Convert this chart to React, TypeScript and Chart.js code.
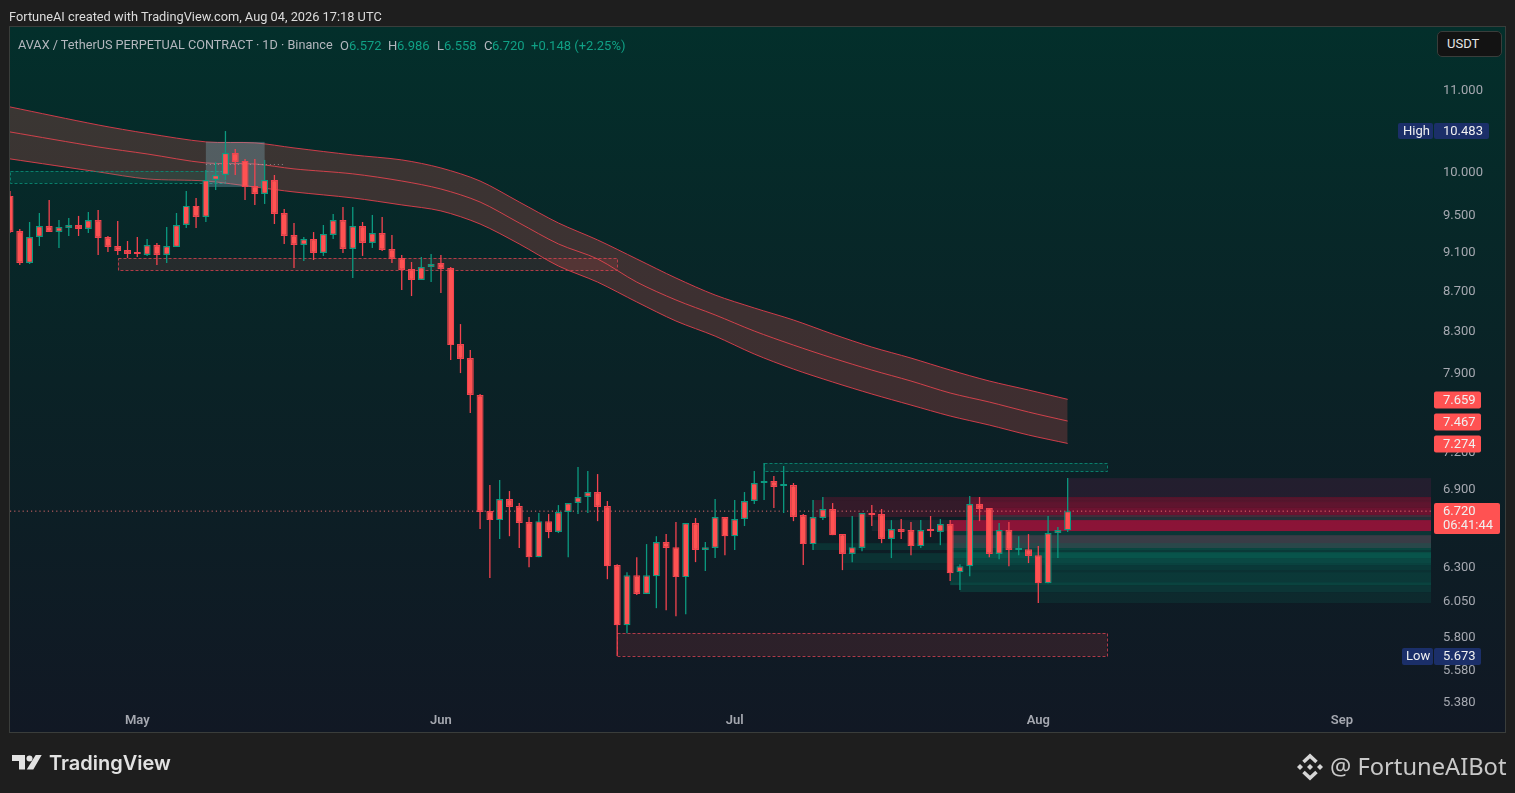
import React, { useEffect, useRef } from "react";
import { Chart, registerables } from "chart.js";

Chart.register(...registerables);

// Day numbers: 0 = 1 May. The first visible candle is day -13.
const firstDay = -13;
const axisMinDay = -13;
const axisMaxDay = 132.1;

const highs = [
  9.774, 9.348, 9.425, 9.525, 9.671, 9.447, 9.469, 9.492, 9.537, 9.559,
  9.272, 9.436, 9.218, 9.261, 9.24, 9.197, 9.37, 9.525, 9.774, 9.694,
  10.017, 10.11, 10.483, 10.266, 10.147, 10.147, 10.135, 9.958, 9.57, 9.414,
  9.261, 9.315, 9.392, 9.514, 9.592, 9.592, 9.425, 9.503, 9.481, 9.283,
  9.068, 8.994, 9.047, 9.079, 9.068, 8.941, 8.364, 8.114, 7.707, 6.928,
  6.969, 6.88, 6.784, 6.674, 6.706, 6.698, 6.768, 6.784, 7.076, 7.043,
  7.018, 6.8, 6.316, 6.257, 6.368, 6.466, 6.526, 6.542, 6.635, 6.627,
  6.666, 6.481, 6.816, 6.674, 6.808, 6.872, 7.043, 7.109, 7.002, 7.084,
  6.945, 6.698, 6.808, 6.832, 6.784, 6.542, 6.682, 6.706, 6.768, 6.737,
  6.65, 6.658, 6.635, 6.65, 6.682, 6.658, 6.65, 6.316, 6.84, 6.832,
  6.745, 6.627, 6.635, 6.526, 6.542, 6.451, 6.682, 6.596, 6.986,
];
const bodyTops = [
  9.717, 9.326, 9.261, 9.381, 9.381, 9.37, 9.392, 9.392, 9.447, 9.447,
  9.261, 9.164, 9.121, 9.089, 9.175, 9.175, 9.164, 9.392, 9.604, 9.604,
  9.9, 9.958, 10.218, 10.218, 10.123, 9.831, 9.9, 9.9, 9.525, 9.283,
  9.24, 9.24, 9.294, 9.447, 9.447, 9.381, 9.381, 9.305, 9.305, 9.132,
  9.036, 8.92, 8.941, 8.973, 8.984, 8.931, 8.171, 8.038, 7.698, 6.721,
  6.816, 6.816, 6.761, 6.635, 6.642, 6.642, 6.713, 6.784, 6.832, 6.872,
  6.872, 6.761, 6.309, 6.235, 6.235, 6.235, 6.481, 6.481, 6.443, 6.627,
  6.627, 6.443, 6.674, 6.674, 6.658, 6.8, 6.945, 6.961, 6.961, 6.928,
  6.928, 6.69, 6.674, 6.737, 6.737, 6.542, 6.443, 6.706, 6.706, 6.698,
  6.581, 6.581, 6.573, 6.573, 6.573, 6.619, 6.619, 6.301, 6.776, 6.776,
  6.745, 6.573, 6.573, 6.428, 6.428, 6.383, 6.55, 6.573, 6.72,
];
const bodyBottoms = [
  9.315, 8.984, 8.984, 9.261, 9.315, 9.315, 9.359, 9.348, 9.348, 9.25,
  9.153, 9.11, 9.079, 9.079, 9.068, 9.068, 9.068, 9.153, 9.392, 9.481,
  9.481, 9.9, 9.958, 10.111, 9.818, 9.739, 9.739, 9.514, 9.272, 9.175,
  9.175, 9.089, 9.089, 9.283, 9.132, 9.132, 9.197, 9.197, 9.121, 9.026,
  8.91, 8.806, 8.806, 8.941, 8.92, 8.161, 8.029, 7.698, 6.713, 6.65,
  6.65, 6.753, 6.627, 6.368, 6.368, 6.558, 6.558, 6.713, 6.784, 6.832,
  6.753, 6.301, 5.88, 5.88, 6.099, 6.099, 6.228, 6.436, 6.221, 6.221,
  6.421, 6.421, 6.436, 6.526, 6.526, 6.658, 6.8, 6.945, 6.912, 6.92,
  6.674, 6.466, 6.466, 6.666, 6.534, 6.391, 6.391, 6.436, 6.69, 6.504,
  6.504, 6.558, 6.451, 6.451, 6.565, 6.558, 6.25, 6.257, 6.301, 6.737,
  6.391, 6.391, 6.421, 6.421, 6.376, 6.177, 6.177, 6.55, 6.572,
];
const lows = [
  9.304, 8.962, 8.973, 9.164, 9.315, 9.143, 9.272, 9.272, 9.305, 9.068,
  9.1, 9.068, 9.036, 9.047, 9.058, 8.962, 8.984, 9.153, 9.359, 9.359,
  9.425, 9.785, 9.9, 9.958, 9.671, 9.615, 9.626, 9.403, 9.186, 8.931,
  9.005, 9.015, 9.058, 9.24, 9.089, 8.827, 9.058, 9.143, 9.11, 8.984,
  8.704, 8.643, 8.806, 8.785, 8.674, 8.019, 7.898, 7.538, 6.581, 6.214,
  6.504, 6.526, 6.436, 6.294, 6.368, 6.511, 6.55, 6.368, 6.698, 6.706,
  6.642, 6.206, 5.673, 5.826, 6.092, 6.099, 5.999, 5.985, 5.943, 5.957,
  6.331, 6.265, 6.361, 6.383, 6.421, 6.604, 6.776, 6.808, 6.745, 6.706,
  6.642, 6.309, 6.421, 6.65, 6.534, 6.272, 6.331, 6.413, 6.604, 6.473,
  6.361, 6.504, 6.383, 6.436, 6.519, 6.458, 6.192, 6.127, 6.228, 6.642,
  6.368, 6.353, 6.301, 6.383, 6.324, 6.035, 6.177, 6.361, 6.558,
];
const upFlags = [
  0, 0, 1, 1, 0, 1, 1, 0, 1, 0,
  0, 0, 0, 0, 1, 0, 1, 1, 1, 0,
  1, 1, 1, 0, 0, 0, 1, 0, 0, 0,
  1, 0, 1, 1, 0, 1, 0, 1, 0, 0,
  0, 0, 1, 1, 0, 0, 0, 0, 0, 0,
  1, 0, 0, 0, 1, 0, 1, 1, 1, 1,
  0, 0, 0, 1, 0, 1, 1, 0, 0, 1,
  0, 1, 1, 0, 1, 1, 1, 1, 0, 1,
  0, 0, 1, 1, 0, 0, 1, 1, 0, 0,
  1, 0, 0, 1, 0, 1, 0, 1, 1, 0,
  0, 1, 0, 1, 0, 0, 1, 1, 1,
];

const bandDays = [-13, -4, 1, 7, 12, 16, 22, 27, 31, 35, 39, 43, 47, 51, 55, 59, 63, 67, 71, 75, 79, 83, 87, 91, 95];
const bandUpper = [
  10.783, 10.558, 10.454, 10.351, 10.339, 10.278, 10.194, 10.135, 10.04, 9.888, 9.648, 9.414, 9.229,
  9.026, 8.827, 8.653, 8.523, 8.404, 8.267, 8.142, 8.038, 7.926, 7.825, 7.743, 7.659,
];
const bandMiddle = [
  10.472, 10.29, 10.206, 10.099, 10.087, 10.029, 9.971, 9.888, 9.796, 9.648, 9.414, 9.186, 9.026,
  8.785, 8.603, 8.454, 8.296, 8.161, 8.038, 7.926, 7.825, 7.716, 7.635, 7.546, 7.467,
];
const bandLower = [
  10.147, 9.994, 9.912, 9.888, 9.819, 9.762, 9.694, 9.615, 9.548, 9.403, 9.186, 8.952, 8.785,
  8.583, 8.394, 8.247, 8.076, 7.935, 7.816, 7.707, 7.608, 7.511, 7.432, 7.346, 7.274,
];

const lastPrice = 6.72;
const countdown = "06:41:44";
const highPrice = 10.483;
const lowPrice = 5.673;
const bandLabels = [7.659, 7.467, 7.274];

const priceTicks = [11, 10, 9.5, 9.1, 8.7, 8.3, 7.9, 7.2, 6.9, 6.3, 6.05, 5.8, 5.58, 5.38];
const monthNames = ["May", "Jun", "Jul", "Aug", "Sep"];
const monthDays = [0, 31, 61, 92, 123];

// Zones: start day, end day, upper price, lower price
const zoneStarts = [-13, 7, -2, 64, 49];
const zoneEnds = [9, 13, 49, 99, 99];
const zoneTops = [10.005, 10.351, 9.036, 7.109, 5.826];
const zoneBottoms = [9.865, 9.819, 8.905, 7.039, 5.673];
const zoneKinds = ["supply", "mark", "demand", "supply", "demand"];

// Volume-profile style rows: start day, upper price, lower price, kind, weight
const rowStarts = [95, 69, 70, 85, 85, 85, 85, 75, 83, 83, 83, 69, 83, 83, 72, 83, 72, 83, 83, 83, 84, 92];
const rowTops = [6.985, 6.808, 6.832, 6.832, 6.792, 6.745, 6.69, 6.65, 6.65, 6.565, 6.534, 6.473, 6.436, 6.406, 6.398, 6.361, 6.324, 6.309, 6.257, 6.184, 6.163, 6.113];
const rowBottoms = [6.832, 6.674, 6.808, 6.792, 6.745, 6.69, 6.65, 6.565, 6.565, 6.534, 6.436, 6.421, 6.406, 6.361, 6.324, 6.309, 6.272, 6.257, 6.184, 6.163, 6.113, 6.035];
const rowKinds = ["p", "r", "r", "r", "r", "r", "g", "g", "r", "t", "g", "t", "t", "t", "t", "t", "t", "t", "t", "t", "t", "t"];
const rowWeights = [0.3, 0.2, 0.2, 0.22, 0.28, 0.36, 0.25, 0.14, 0.62, 0.35, 0.45, 0.3, 0.4, 0.7, 0.3, 0.45, 0.15, 0.3, 0.4, 0.55, 0.35, 0.2];

const TEAL = "#0b9a80";
const RED = "#f4434f";
const FILL = "#ff5252";
const rowRgb: Record<string, string> = {
  p: "90,30,70",
  r: "208,9,61",
  g: "110,100,110",
  t: "8,100,86",
};

const SANS = "Roboto, sans-serif";

function badge(ctx: any, x: number, y: number, w: number, h: number, color: string, text: string, tx: number) {
  ctx.fillStyle = color;
  ctx.beginPath();
  ctx.roundRect(x, y, w, h, 2);
  ctx.fill();
  ctx.fillStyle = "#f0f0f0";
  ctx.font = `13px ${SANS}`;
  ctx.textAlign = "left";
  ctx.textBaseline = "middle";
  ctx.fillText(text, tx, y + h / 2 + 0.5);
}

const panePlugin = {
  id: "pane",
  beforeDraw(chart: any) {
    const { ctx } = chart;
    ctx.save();
    ctx.fillStyle = "#1e1e1e";
    ctx.fillRect(0, 0, 1515, 793);
    const g = ctx.createLinearGradient(0, 27, 0, 732);
    g.addColorStop(0, "#032f2b");
    g.addColorStop(0.5, "#0a2226");
    g.addColorStop(1, "#111824");
    ctx.fillStyle = g;
    ctx.fillRect(10, 27, 1495, 705);
    ctx.strokeStyle = "#3a3d3b";
    ctx.lineWidth = 1;
    ctx.strokeRect(9.5, 26.5, 1496, 706);
    ctx.restore();
  },
  beforeDatasetDraw(chart: any, args: any) {
    // zones lie over the band but under the last-price line and the candles
    if (args.index !== 3) return;
    const { ctx, chartArea: a, scales } = chart;
    const X = scales.x;
    const Y = scales.y;
    ctx.save();
    ctx.beginPath();
    ctx.rect(a.left, a.top, a.right - a.left, a.bottom - a.top);
    ctx.clip();
    rowStarts.forEach((d, i) => {
      const x = X.getPixelForValue(d);
      const t = Y.getPixelForValue(rowTops[i]);
      const b = Y.getPixelForValue(rowBottoms[i]);
      ctx.fillStyle = `rgba(${rowRgb[rowKinds[i]]},${rowWeights[i]})`;
      ctx.fillRect(x, t, a.right - x, b - t);
    });
    zoneStarts.forEach((d, i) => {
      const x0 = X.getPixelForValue(d);
      const x1 = X.getPixelForValue(zoneEnds[i]);
      const t = Y.getPixelForValue(zoneTops[i]);
      const b = Y.getPixelForValue(zoneBottoms[i]);
      const kind = zoneKinds[i];
      if (kind === "mark") {
        ctx.fillStyle = "rgba(135,180,195,0.33)";
        ctx.fillRect(x0, t, x1 - x0, b - t);
        ctx.setLineDash([1, 3]);
        ctx.strokeStyle = "rgba(190,190,190,0.6)";
        ctx.lineWidth = 1;
        ctx.beginPath();
        ctx.moveTo(x0, Math.round((t + b) / 2) + 0.5);
        ctx.lineTo(x1 + 20, Math.round((t + b) / 2) + 0.5);
        ctx.stroke();
      } else {
        const supply = kind === "supply";
        ctx.fillStyle = supply ? "rgba(8,153,129,0.15)" : "rgba(255,82,82,0.12)";
        ctx.fillRect(x0, t, x1 - x0, b - t);
        ctx.setLineDash([3, 2]);
        ctx.strokeStyle = supply ? "rgba(10,140,118,0.85)" : "rgba(215,65,80,0.8)";
        ctx.lineWidth = 1;
        ctx.strokeRect(Math.round(x0) + 0.5, Math.round(t) + 0.5, Math.round(x1 - x0), Math.round(b - t));
      }
    });
    ctx.restore();
  },
  afterDraw(chart: any) {
    const { ctx, scales } = chart;
    const Y = scales.y;
    ctx.save();
    bandLabels.forEach((v) => {
      const y = Math.round(Y.getPixelForValue(v));
      badge(ctx, 1434, y - 7.5, 47, 17, FILL, v.toFixed(3), 1443);
    });
    // current price + countdown
    const py = Math.round(Y.getPixelForValue(lastPrice));
    ctx.fillStyle = FILL;
    ctx.beginPath();
    ctx.roundRect(1434, py - 8, 66, 31, 2);
    ctx.fill();
    ctx.fillStyle = "#f0f0f0";
    ctx.font = `13px ${SANS}`;
    ctx.textBaseline = "middle";
    ctx.textAlign = "left";
    ctx.fillText(lastPrice.toFixed(3), 1443, py + 0.5);
    ctx.fillText(countdown, 1443, py + 14.5);
    // high and low
    const hy = Math.round(Y.getPixelForValue(highPrice));
    badge(ctx, 1398, hy - 8, 35, 16, "#1b2f69", "High", 1403);
    badge(ctx, 1434, hy - 8, 55, 16, "#1b2f69", highPrice.toFixed(3), 1443);
    const ly = Math.round(Y.getPixelForValue(lowPrice));
    badge(ctx, 1402, ly - 8, 31, 17, "#1b2f69", "Low", 1406);
    badge(ctx, 1434, ly - 8, 47, 17, "#1b2f69", lowPrice.toFixed(3), 1443);

    // TradingView logo
    ctx.fillStyle = "#e2e2e2";
    ctx.beginPath();
    ctx.moveTo(12, 755);
    ctx.lineTo(25, 755);
    ctx.lineTo(25, 769.5);
    ctx.lineTo(19, 769.5);
    ctx.lineTo(19, 761);
    ctx.lineTo(12, 761);
    ctx.closePath();
    ctx.moveTo(35.7, 755);
    ctx.lineTo(41.7, 755);
    ctx.lineTo(33.3, 769.5);
    ctx.lineTo(26.7, 769.5);
    ctx.closePath();
    ctx.fill();
    ctx.beginPath();
    ctx.arc(29.5, 758.4, 3, 0, Math.PI * 2);
    ctx.fill();

    // Binance mark
    const cx = 1310;
    const cy = 767;
    ctx.translate(cx, cy);
    ctx.fillStyle = "#d6d6d6";
    ctx.strokeStyle = "#d6d6d6";
    const diamond = (dx: number, dy: number, r: number) => {
      ctx.beginPath();
      ctx.moveTo(dx, dy - r);
      ctx.lineTo(dx + r, dy);
      ctx.lineTo(dx, dy + r);
      ctx.lineTo(dx - r, dy);
      ctx.closePath();
      ctx.fill();
    };
    diamond(0, 0, 3);
    diamond(-10, 0, 3);
    diamond(10, 0, 3);
    ctx.lineWidth = 3.6;
    ctx.lineJoin = "miter";
    ctx.beginPath();
    ctx.moveTo(-6.5, -5);
    ctx.lineTo(0, -11);
    ctx.lineTo(6.5, -5);
    ctx.stroke();
    ctx.beginPath();
    ctx.moveTo(-6.5, 5);
    ctx.lineTo(0, 11);
    ctx.lineTo(6.5, 5);
    ctx.stroke();
    ctx.restore();
  },
};

const textBase: React.CSSProperties = {
  position: "absolute",
  whiteSpace: "nowrap",
  fontFamily: SANS,
  lineHeight: 1,
};

function Label(props: { x: number; y: number; size: number; color: string; weight?: number; family?: string; text: string }) {
  return (
    <span
      style={{
        ...textBase,
        left: props.x,
        top: props.y - props.size / 2,
        fontSize: props.size,
        color: props.color,
        fontWeight: props.weight ?? 400,
        fontFamily: props.family ?? SANS,
      }}
    >
      {props.text}
    </span>
  );
}

export default function App() {
  const ref = useRef<HTMLCanvasElement | null>(null);

  useEffect(() => {
    const canvas = ref.current;
    if (!canvas) return;
    const days = highs.map((_, i) => firstDay + i);
    const toLine = (vals: number[]) => bandDays.map((d, i) => ({ x: d, y: vals[i] }));
    const lineBase = {
      type: "line",
      pointRadius: 0,
      borderWidth: 1,
      tension: 0.3,
      order: 5,
    };
    const chart = new Chart(canvas, {
      type: "bar",
      plugins: [panePlugin],
      data: {
        datasets: [
          {
            ...lineBase,
            label: "Band upper",
            data: toLine(bandUpper),
            borderColor: "rgba(215,60,75,0.95)",
            backgroundColor: "rgba(220,85,80,0.25)",
            fill: "+2",
          },
          {
            ...lineBase,
            label: "Band middle",
            data: toLine(bandMiddle),
            borderColor: "rgba(215,60,75,0.95)",
            fill: false,
          },
          {
            ...lineBase,
            label: "Band lower",
            data: toLine(bandLower),
            borderColor: "rgba(215,60,75,0.95)",
            fill: false,
          },
          {
            type: "line",
            label: "Last price",
            data: [
              { x: axisMinDay, y: lastPrice },
              { x: axisMaxDay, y: lastPrice },
            ],
            borderColor: "rgba(255,120,120,0.85)",
            borderWidth: 1,
            borderDash: [1.2, 3],
            pointRadius: 0,
            order: 4,
          },
          {
            label: "Wick",
            data: days.map((d, i) => ({ x: d, y: [lows[i], highs[i]] })),
            backgroundColor: upFlags.map((u) => (u ? TEAL : RED)),
            borderWidth: 0,
            barThickness: 1.3,
            grouped: false,
            inflateAmount: 0,
            order: 2,
          },
          {
            label: "Body",
            data: days.map((d, i) => ({ x: d, y: [bodyBottoms[i], bodyTops[i]] })),
            backgroundColor: FILL,
            borderColor: upFlags.map((u) => (u ? TEAL : RED)),
            borderWidth: 1.2,
            borderSkipped: false,
            barThickness: 7,
            minBarLength: 2,
            grouped: false,
            inflateAmount: 0,
            order: 1,
          },
        ],
      },
      options: {
        responsive: false,
        animation: false,
        events: [],
        layout: { padding: { left: 10, top: 27, right: 15, bottom: 61 } },
        plugins: { legend: { display: false }, tooltip: { enabled: false }, title: { display: false } },
        scales: {
          x: {
            type: "linear",
            min: axisMinDay,
            max: axisMaxDay,
            offset: false,
            grid: { display: false, drawTicks: false },
            border: { display: false },
            afterBuildTicks: (s: any) => {
              s.ticks = monthDays.map((v) => ({ value: v }));
            },
            afterFit: (s: any) => {
              s.height = 25;
            },
            ticks: {
              autoSkip: false,
              maxRotation: 0,
              padding: 6,
              color: "#a5a8b0",
              font: { family: "Roboto", size: 13, weight: "600" },
              callback: (v: any) => monthNames[monthDays.indexOf(Number(v))] ?? "",
            },
          },
          y: {
            type: "logarithmic",
            position: "right",
            bounds: "data",
            min: 5.344,
            max: 11.84,
            grid: { display: false, drawTicks: false },
            border: { display: false },
            afterBuildTicks: (s: any) => {
              s.ticks = priceTicks.map((v) => ({ value: v }));
            },
            afterFit: (s: any) => {
              s.width = 69;
            },
            ticks: {
              autoSkip: false,
              padding: 12,
              labelOffset: 1,
              color: "#a5a8b0",
              font: { family: "Roboto", size: 13 },
              callback: (v: any) => Number(v).toFixed(3),
            },
          },
        },
      },
    } as any);
    return () => chart.destroy();
  }, []);

  const legendGrey = "#b4b7be";
  const legendTeal = "#10a085";
  return (
    <div
      style={{
        position: "fixed",
        left: 0,
        top: 0,
        width: 1515,
        height: 793,
        overflow: "hidden",
        background: "#1e1e1e",
      }}
    >
      <canvas ref={ref} width={1515} height={793} style={{ position: "absolute", left: 0, top: 0, width: 1515, height: 793 }} />
      <Label x={9} y={17} size={12.8} color="#dcdcdc" text="FortuneAI created with TradingView.com, Aug 04, 2026 17:18 UTC" />
      <Label x={18} y={45} size={12.7} color={legendGrey} text="AVAX / TetherUS PERPETUAL CONTRACT · 1D · Binance" />
      <Label x={340} y={45} size={13} color={legendGrey} text="O" />
      <Label x={349} y={45} size={13} color={legendTeal} text="6.572" />
      <Label x={388} y={45} size={13} color={legendGrey} text="H" />
      <Label x={397} y={45} size={13} color={legendTeal} text="6.986" />
      <Label x={437} y={45} size={13} color={legendGrey} text="L" />
      <Label x={444} y={45} size={13} color={legendTeal} text="6.558" />
      <Label x={484} y={45} size={13} color={legendGrey} text="C" />
      <Label x={492} y={45} size={13} color={legendTeal} text="6.720" />
      <Label x={531} y={45} size={13} color={legendTeal} text="+0.148 (+2.25%)" />
      <div
        style={{
          ...textBase,
          left: 1437,
          top: 31,
          width: 65,
          height: 26,
          boxSizing: "border-box",
          background: "#131313",
          border: "1px solid #3a3d3b",
          borderRadius: 5,
          color: "#e6e6e6",
          fontSize: 13,
          lineHeight: "24px",
          paddingLeft: 9,
        }}
      >
        USDT
      </div>
      <Label x={49} y={763} size={20} weight={600} color="#e2e2e2" family="Inter, sans-serif" text="TradingView" />
      <Label x={1330} y={767} size={23.7} color="#c9c9c9" family="'Noto Sans', sans-serif" text="@ FortuneAIBot" />
    </div>
  );
}
